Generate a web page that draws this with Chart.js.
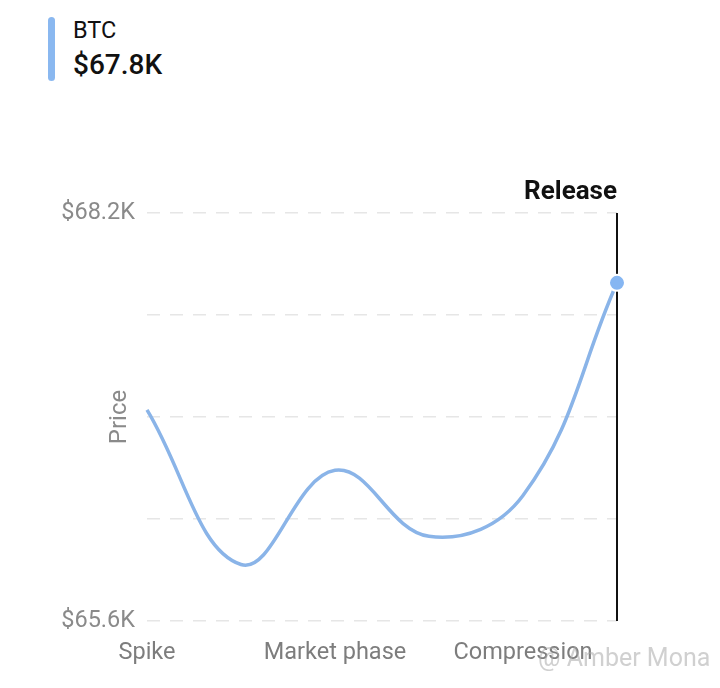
<!DOCTYPE html>
<html>
<head>
<meta charset="utf-8">
<script src="https://cdn.jsdelivr.net/npm/chart.js@4.4.1/dist/chart.umd.min.js"></script>
<style>
  html, body { margin: 0; padding: 0; background: #fff; }
  body { width: 720px; height: 688px; position: relative; overflow: hidden; font-family: Roboto, "Noto Sans", sans-serif; }
  #wrap { position: absolute; left: 0; top: 0; width: 720px; height: 688px; }
  .legend { position: absolute; left: 48px; top: 17px; }
  .legend .bar { position: absolute; left: 0; top: 0; width: 7px; height: 64px; border-radius: 4px; background: #8ab8f0; }
  .legend .name { position: absolute; left: 25px; top: -1px; font-size: 23.5px; color: #111; white-space: nowrap; }
  .legend .value { position: absolute; left: 25px; top: 31px; font-size: 28px; font-weight: 500; color: #111; white-space: nowrap; }
  .mark { position: absolute; left: 538px; top: 643px; font-size: 25px; color: rgba(170,170,170,0.55); white-space: nowrap; }
</style>
</head>
<body>
<div class="legend">
  <div class="bar"></div>
  <div class="name">BTC</div>
  <div class="value">$67.8K</div>
</div>
<div id="wrap"><canvas id="chart"></canvas></div>
<div class="mark">@ Amber Mona</div>
<script>
(function (Chart) {

  "use strict";

  var labels = ['Spike', '', 'Market phase', '', 'Compression', ''];
  var prices = [66945, 65960, 66560, 66140, 66400, 67755];
  var yMin = 65600;
  var yMax = 68200;
  var yStep = 650;
  var lineColor = '#8ab4e8';

  // vertical marker at the last point, plus the "Release" caption and the axis title
  var releaseLine = {
    id: 'releaseLine',
    afterDatasetsDraw: function (chart) {
      var ctx = chart.ctx;
      var area = chart.chartArea;
      var x = chart.scales.x.getPixelForValue(labels.length - 1);
      ctx.save();
      ctx.strokeStyle = '#111';
      ctx.lineWidth = 2;
      ctx.beginPath();
      ctx.moveTo(x, area.top);
      ctx.lineTo(x, area.bottom);
      ctx.stroke();

      ctx.fillStyle = '#111';
      ctx.font = 'bold 26px Roboto, sans-serif';
      ctx.textAlign = 'right';
      ctx.textBaseline = 'middle';
      ctx.fillText('Release', x, area.top - 21);

      ctx.translate(120, (area.top + area.bottom) / 2);
      ctx.rotate(-Math.PI / 2);
      ctx.fillStyle = '#8a8a8a';
      ctx.font = '24px Roboto, sans-serif';
      ctx.textAlign = 'center';
      ctx.fillText('Price', 0, 0);
      ctx.restore();

      // redraw the last point over the line
      var meta = chart.getDatasetMeta(0);
      meta.data[meta.data.length - 1].draw(ctx, area);
    }
  };

  var ctx = document.getElementById('chart').getContext('2d');

  new Chart(ctx, {
    type: 'line',
    data: {
      labels: labels,
      datasets: [{
        label: 'BTC',
        data: prices,
        borderColor: lineColor,
        borderWidth: 3.5,
        tension: 0.4,
        fill: false,
        pointRadius: prices.map(function (v, i) { return i === prices.length - 1 ? 8 : 0; }),
        pointBackgroundColor: '#86b6f2',
        pointBorderColor: '#ffffff',
        pointBorderWidth: 2
      }]
    },
    options: {
      responsive: true,
      maintainAspectRatio: false,
      animation: false,
      layout: { padding: { top: 213, right: 103, left: 0, bottom: 0 } },
      plugins: {
        legend: { display: false },
        tooltip: { enabled: false }
      },
      scales: {
        x: {
          offset: false,
          grid: { display: false },
          border: { display: false },
          afterFit: function (scale) { scale.height = 67; },
          ticks: {
            autoSkip: false,
            maxRotation: 0,
            padding: 10,
            color: '#7d7d7d',
            font: { family: 'Roboto', size: 23.5 }
          }
        },
        y: {
          min: yMin,
          max: yMax,
          afterFit: function (scale) { scale.width = 147; },
          border: { display: false, dash: [13, 10] },
          grid: { color: '#e6e6e6', lineWidth: 1.5, drawTicks: false },
          ticks: {
            stepSize: yStep,
            padding: 12,
            color: '#8a8a8a',
            font: { family: 'Roboto', size: 23.5 },
            callback: function (v) {
              if (v === yMin || v === yMax) {
                return '$' + (v / 1000).toFixed(1) + 'K';
              }
              return '';
            }
          }
        }
      }
    },
    plugins: [releaseLine]
  });

})(Chart);
</script>
</body>
</html>
